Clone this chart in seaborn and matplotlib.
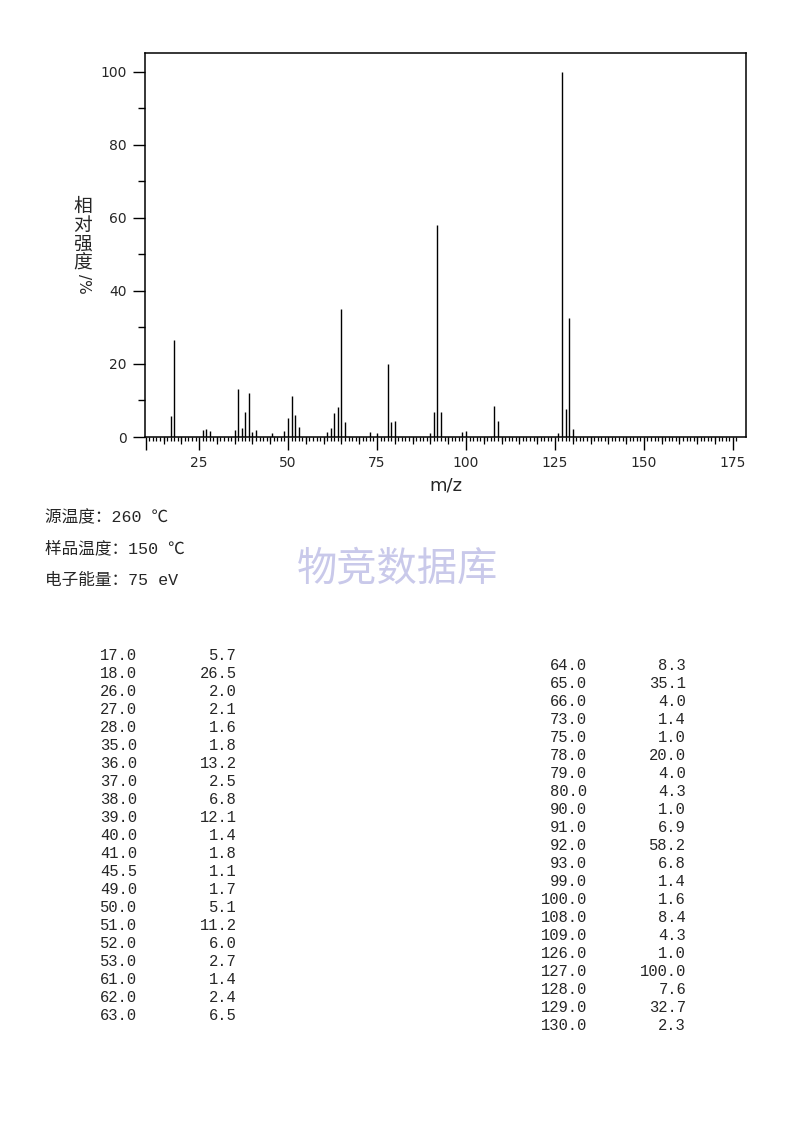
import matplotlib
matplotlib.use('Agg')
import matplotlib.pyplot as plt
import seaborn as sns
import pandas as pd
from matplotlib.ticker import FixedLocator, MultipleLocator

sns.set_theme(style='white')
plt.rcParams['font.family'] = ['DejaVu Sans', 'Noto Sans CJK SC']

# peak list (m/z, relative intensity %)
mz = [17.0, 18.0, 26.0, 27.0, 28.0, 35.0, 36.0, 37.0, 38.0, 39.0, 40.0,
      41.0, 45.5, 49.0, 50.0, 51.0, 52.0, 53.0, 61.0, 62.0, 63.0,
      64.0, 65.0, 66.0, 73.0, 75.0, 78.0, 79.0, 80.0, 90.0, 91.0, 92.0,
      93.0, 99.0, 100.0, 108.0, 109.0, 126.0, 127.0, 128.0, 129.0, 130.0]
intensity = [5.7, 26.5, 2.0, 2.1, 1.6, 1.8, 13.2, 2.5, 6.8, 12.1, 1.4,
             1.8, 1.1, 1.7, 5.1, 11.2, 6.0, 2.7, 1.4, 2.4, 6.5,
             8.3, 35.1, 4.0, 1.4, 1.0, 20.0, 4.0, 4.3, 1.0, 6.9, 58.2,
             6.8, 1.4, 1.6, 8.4, 4.3, 1.0, 100.0, 7.6, 32.7, 2.3]
x_ticks = [25, 50, 75, 100, 125, 150, 175]
y_ticks = [0, 20, 40, 60, 80, 100]
conditions = ['源温度：260 ℃', '样品温度：150 ℃', '电子能量：75 eV']

df = pd.DataFrame({'mz': mz, 'intensity': intensity})

W, H = 794, 1134
fig = plt.figure(figsize=(W / 100, H / 100), dpi=100)
ax = fig.add_axes([145 / W, 1 - 437 / H, (746 - 145) / W, (437 - 53) / H])

ax.vlines(df['mz'], 0, df['intensity'], color='black', linewidth=1.0)

ax.set_xlim(9.8, 178.7)
ax.set_ylim(0, 105.2)
for s in ax.spines.values():
    s.set_color('black')
    s.set_linewidth(1.1)

# x ticks: labelled every 25, medium every 5, small every 1
ax.xaxis.set_major_locator(FixedLocator([10] + x_ticks))
ax.set_xticklabels([''] + [str(t) for t in x_ticks])
ax.xaxis.set_minor_locator(FixedLocator(list(range(11, 177))))
ax.tick_params(axis='x', which='major', direction='out', length=9, width=1.0,
               color='black', labelsize=10, pad=5, bottom=True)
ax.tick_params(axis='x', which='minor', direction='out', length=3, width=0.9,
               color='black', bottom=True)
sec = ax.secondary_xaxis('bottom')
sec.xaxis.set_major_locator(FixedLocator([t for t in range(15, 177, 5) if t % 25]))
sec.set_xticklabels([])
sec.tick_params(direction='out', length=5, width=0.9, color='black')
sec.spines['bottom'].set_visible(False)

ax.yaxis.set_major_locator(FixedLocator(y_ticks))
ax.yaxis.set_minor_locator(MultipleLocator(10))
ax.tick_params(axis='y', which='major', direction='out', length=9, width=1.0,
               color='black', labelsize=10, pad=4, left=True)
ax.tick_params(axis='y', which='minor', direction='out', length=5, width=1.0,
               color='black', left=True)

ax.set_xlabel('m/z', fontsize=13, labelpad=4)

# stacked y label
fig.text(83 / W, 1 - 196 / H, '相\n对\n强\n度', ha='center', va='top',
         fontsize=13.5, linespacing=0.86, family=['Noto Sans CJK SC'])
fig.text(83 / W, 1 - 274 / H, '/%', ha='center', va='top', rotation=270,
         fontsize=11)

# conditions
for i, line in enumerate(conditions):
    fig.text(45 / W, 1 - (517 + 31.5 * i) / H, line, ha='left', va='center',
             fontsize=12, family=['Liberation Mono', 'Noto Sans CJK SC'])

# watermark
fig.text(397 / W, 1 - 569 / H, '物竞数据库', ha='center', va='center',
         fontsize=29, color='#c9c9ea', family=['Noto Sans CJK SC'])

# peak table
half = 21
for i in range(len(mz)):
    if i < half:
        y = 656 + 18 * i
        x1, x2 = 137, 237
    else:
        y = 666 + 18 * (i - half)
        x1, x2 = 587, 686
    fig.text(x1 / W, 1 - y / H, f'{mz[i]:.1f}', ha='right', va='center',
             fontsize=11.2, family='Liberation Mono')
    fig.text(x2 / W, 1 - y / H, f'{intensity[i]:.1f}', ha='right', va='center',
             fontsize=11.2, family='Liberation Mono')

fig.savefig('out.png', dpi=100, facecolor='white')
